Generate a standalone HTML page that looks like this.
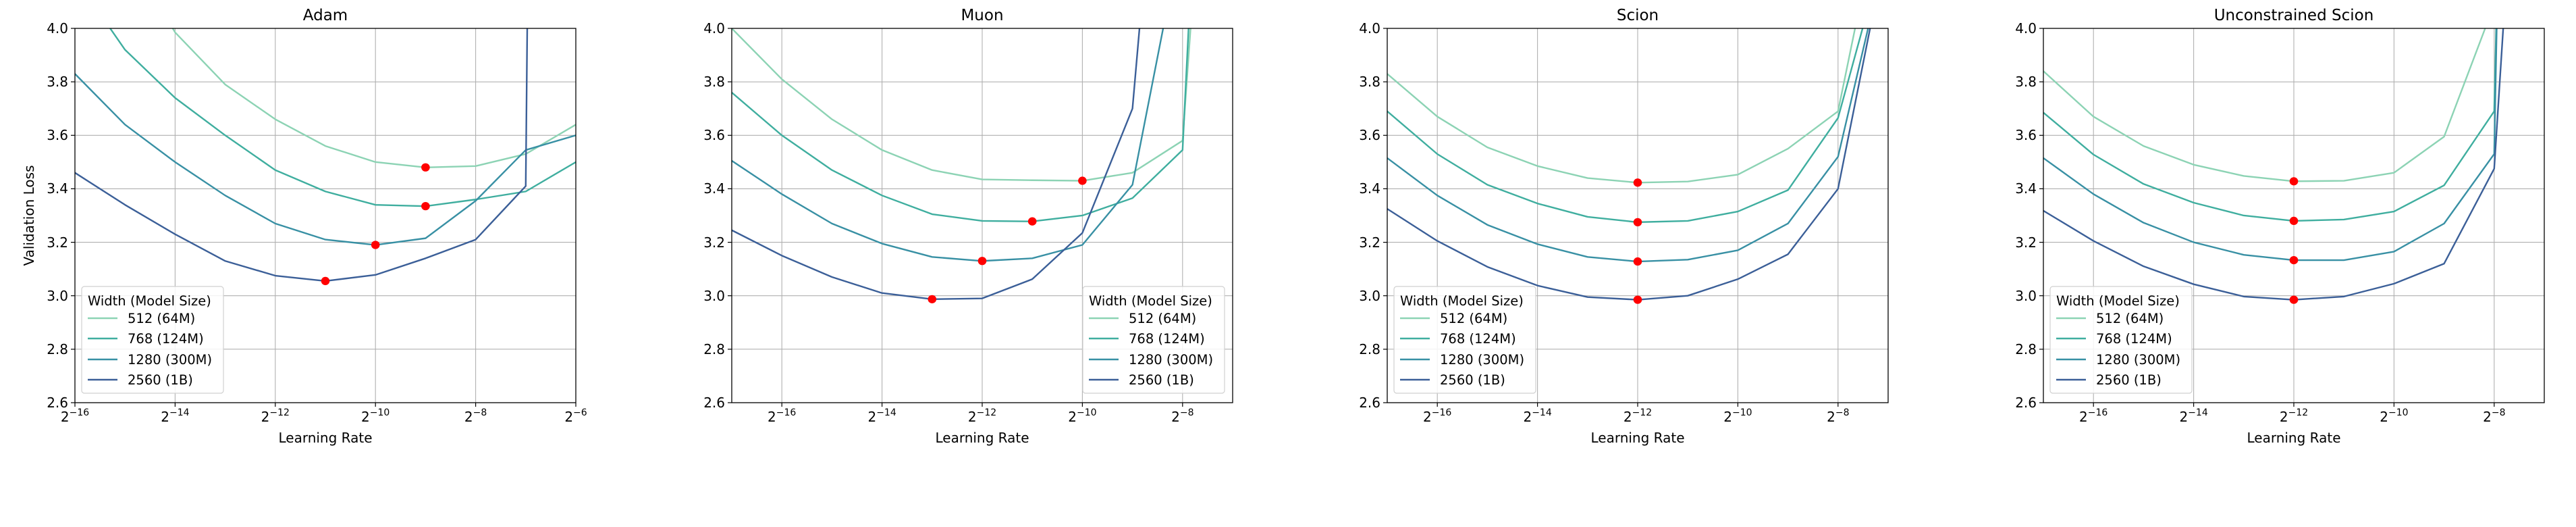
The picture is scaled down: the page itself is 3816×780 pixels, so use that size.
<!DOCTYPE html>
<html><head><meta charset="utf-8">
<style>
html,body{margin:0;padding:0;background:#fff;}
svg{display:block;font-family:"DejaVu Sans","Liberation Sans",sans-serif;}
.ln{fill:none;stroke-width:2.4;vector-effect:non-scaling-stroke;stroke-linejoin:round;}
.g{stroke:#b0b0b0;}
.g line{stroke-width:1.1;vector-effect:non-scaling-stroke;fill:none;}
.c1{stroke:#8cd3b4}.c2{stroke:#3fae9f}.c3{stroke:#3890a4}.c4{stroke:#3b5f98}
.tk{font-size:20px;fill:#000}
.yt{font-size:20px;text-anchor:end;fill:#000}
.sup{font-size:14px}
.ttl{font-size:23px;text-anchor:middle}
.lab{font-size:20px;text-anchor:middle}
.lg{font-size:19.5px}
</style></head><body>
<svg width="3816" height="780" viewBox="0 0 3816 780" xmlns="http://www.w3.org/2000/svg">
<defs>
<clipPath id="k1"><rect x="111" y="42" width="742" height="554"/></clipPath>
<clipPath id="k2"><rect x="1084" y="42" width="742" height="554"/></clipPath>
<clipPath id="k3"><rect x="2055" y="42" width="742" height="554"/></clipPath>
<clipPath id="k4"><rect x="3027" y="42" width="742" height="554"/></clipPath>
</defs>

<!-- ================= ADAM ================= -->
<g clip-path="url(#k1)"><g transform="translate(1298.2,1624.8) scale(74.2,-395.7)">
<g class="g">
<line x1="-16" x2="-6" y1="3.8" y2="3.8"/><line x1="-16" x2="-6" y1="3.6" y2="3.6"/><line x1="-16" x2="-6" y1="3.4" y2="3.4"/><line x1="-16" x2="-6" y1="3.2" y2="3.2"/><line x1="-16" x2="-6" y1="3.0" y2="3.0"/><line x1="-16" x2="-6" y1="2.8" y2="2.8"/>
<line x1="-14" x2="-14" y1="2.6" y2="4"/><line x1="-12" x2="-12" y1="2.6" y2="4"/><line x1="-10" x2="-10" y1="2.6" y2="4"/><line x1="-8" x2="-8" y1="2.6" y2="4"/>
</g>
<polyline class="ln c1" points="-15,4.3 -14,3.985 -13,3.79 -12,3.66 -11,3.56 -10,3.50 -9,3.48 -8,3.485 -7,3.53 -6,3.64"/>
<polyline class="ln c2" points="-16,4.19 -15,3.92 -14,3.74 -13,3.60 -12,3.47 -11,3.39 -10,3.34 -9,3.335 -8,3.36 -7,3.39 -6,3.50"/>
<polyline class="ln c3" points="-16,3.83 -15,3.64 -14,3.50 -13,3.375 -12,3.27 -11,3.21 -10,3.19 -9,3.215 -8,3.355 -7,3.545 -6,3.60"/>
<polyline class="ln c4" points="-16,3.46 -15,3.34 -14,3.23 -13,3.13 -12,3.075 -11,3.055 -10,3.078 -9,3.14 -8,3.21 -7,3.41 -6.97,4.0 -6.9,4.5"/>
<g fill="#ff0000"><ellipse cx="-9" cy="3.48" rx="0.085" ry="0.0155"/><ellipse cx="-9" cy="3.335" rx="0.085" ry="0.0155"/><ellipse cx="-10" cy="3.19" rx="0.085" ry="0.0155"/><ellipse cx="-11" cy="3.055" rx="0.085" ry="0.0155"/></g>
</g></g>
<rect x="111" y="42" width="742" height="554" fill="none" stroke="#000" stroke-width="1.3"/>
<g stroke="#000" stroke-width="1.2">
<line x1="111" x2="111" y1="596" y2="602"/><line x1="259.4" x2="259.4" y1="596" y2="602"/><line x1="407.8" x2="407.8" y1="596" y2="602"/><line x1="556.2" x2="556.2" y1="596" y2="602"/><line x1="704.6" x2="704.6" y1="596" y2="602"/><line x1="853" x2="853" y1="596" y2="602"/>
<line x1="105" x2="111" y1="42" y2="42"/><line x1="105" x2="111" y1="121.1" y2="121.1"/><line x1="105" x2="111" y1="200.3" y2="200.3"/><line x1="105" x2="111" y1="279.4" y2="279.4"/><line x1="105" x2="111" y1="358.6" y2="358.6"/><line x1="105" x2="111" y1="437.7" y2="437.7"/><line x1="105" x2="111" y1="516.9" y2="516.9"/><line x1="105" x2="111" y1="596" y2="596"/>
</g>
<g class="yt"><text x="101" y="49">4.0</text><text x="101" y="128">3.8</text><text x="101" y="207">3.6</text><text x="101" y="286">3.4</text><text x="101" y="366">3.2</text><text x="101" y="445">3.0</text><text x="101" y="524">2.8</text><text x="101" y="603">2.6</text></g>
<g class="tk">
<text x="111" y="624" text-anchor="middle">2<tspan class="sup" dy="-9">−16</tspan></text>
<text x="259.4" y="624" text-anchor="middle">2<tspan class="sup" dy="-9">−14</tspan></text>
<text x="407.8" y="624" text-anchor="middle">2<tspan class="sup" dy="-9">−12</tspan></text>
<text x="556.2" y="624" text-anchor="middle">2<tspan class="sup" dy="-9">−10</tspan></text>
<text x="704.6" y="624" text-anchor="middle">2<tspan class="sup" dy="-9">−8</tspan></text>
<text x="853" y="624" text-anchor="middle">2<tspan class="sup" dy="-9">−6</tspan></text>
</g>
<text class="ttl" x="482" y="30">Adam</text>
<text class="lab" x="482" y="655">Learning Rate</text>
<text class="lab" transform="translate(50,319) rotate(-90)">Validation Loss</text>
<g transform="translate(121,424)">
<rect x="0" y="0" width="210" height="158" rx="4" fill="#fff" fill-opacity="0.85" stroke="#d0d0d0" stroke-width="1.2"/>
<text class="lg" x="9" y="28">Width (Model Size)</text>
<line x1="9" x2="53" y1="47" y2="47" class="c1" stroke-width="2.6"/><text class="lg" x="68" y="54">512 (64M)</text>
<line x1="9" x2="53" y1="77" y2="77" class="c2" stroke-width="2.6"/><text class="lg" x="68" y="84">768 (124M)</text>
<line x1="9" x2="53" y1="108" y2="108" class="c3" stroke-width="2.6"/><text class="lg" x="68" y="115">1280 (300M)</text>
<line x1="9" x2="53" y1="138" y2="138" class="c4" stroke-width="2.6"/><text class="lg" x="68" y="145">2560 (1B)</text>
</g>

<!-- ================= MUON ================= -->
<g clip-path="url(#k2)"><g transform="translate(2345.4,1624.8) scale(74.2,-395.7)">
<g class="g">
<line x1="-17" x2="-7" y1="3.8" y2="3.8"/><line x1="-17" x2="-7" y1="3.6" y2="3.6"/><line x1="-17" x2="-7" y1="3.4" y2="3.4"/><line x1="-17" x2="-7" y1="3.2" y2="3.2"/><line x1="-17" x2="-7" y1="3.0" y2="3.0"/><line x1="-17" x2="-7" y1="2.8" y2="2.8"/>
<line x1="-16" x2="-16" y1="2.6" y2="4"/><line x1="-14" x2="-14" y1="2.6" y2="4"/><line x1="-12" x2="-12" y1="2.6" y2="4"/><line x1="-10" x2="-10" y1="2.6" y2="4"/><line x1="-8" x2="-8" y1="2.6" y2="4"/>
</g>
<polyline class="ln c1" points="-17,4.0 -16,3.81 -15,3.66 -14,3.545 -13,3.47 -12,3.435 -11,3.432 -10,3.43 -9,3.46 -8,3.58 -7.84,4.0 -7.8,4.6"/>
<polyline class="ln c2" points="-17,3.76 -16,3.60 -15,3.47 -14,3.375 -13,3.305 -12,3.28 -11,3.278 -10,3.30 -9,3.365 -8,3.545 -7.88,4.0 -7.84,4.6"/>
<polyline class="ln c3" points="-17,3.505 -16,3.38 -15,3.27 -14,3.195 -13,3.145 -12,3.13 -11,3.14 -10,3.19 -9,3.415 -8,4.37"/>
<polyline class="ln c4" points="-17,3.245 -16,3.15 -15,3.07 -14,3.01 -13,2.987 -12,2.99 -11,3.062 -10,3.235 -9,3.70 -8,5.84"/>
<g fill="#ff0000"><ellipse cx="-10" cy="3.43" rx="0.085" ry="0.0155"/><ellipse cx="-11" cy="3.278" rx="0.085" ry="0.0155"/><ellipse cx="-12" cy="3.13" rx="0.085" ry="0.0155"/><ellipse cx="-13" cy="2.987" rx="0.085" ry="0.0155"/></g>
</g></g>
<rect x="1084" y="42" width="742" height="554" fill="none" stroke="#000" stroke-width="1.3"/>
<g stroke="#000" stroke-width="1.2">
<line x1="1158.2" x2="1158.2" y1="596" y2="602"/><line x1="1306.6" x2="1306.6" y1="596" y2="602"/><line x1="1455" x2="1455" y1="596" y2="602"/><line x1="1603.4" x2="1603.4" y1="596" y2="602"/><line x1="1751.8" x2="1751.8" y1="596" y2="602"/>
<line x1="1078" x2="1084" y1="42" y2="42"/><line x1="1078" x2="1084" y1="121.1" y2="121.1"/><line x1="1078" x2="1084" y1="200.3" y2="200.3"/><line x1="1078" x2="1084" y1="279.4" y2="279.4"/><line x1="1078" x2="1084" y1="358.6" y2="358.6"/><line x1="1078" x2="1084" y1="437.7" y2="437.7"/><line x1="1078" x2="1084" y1="516.9" y2="516.9"/><line x1="1078" x2="1084" y1="596" y2="596"/>
</g>
<g class="yt"><text x="1074" y="49">4.0</text><text x="1074" y="128">3.8</text><text x="1074" y="207">3.6</text><text x="1074" y="286">3.4</text><text x="1074" y="366">3.2</text><text x="1074" y="445">3.0</text><text x="1074" y="524">2.8</text><text x="1074" y="603">2.6</text></g>
<g class="tk">
<text x="1158.2" y="624" text-anchor="middle">2<tspan class="sup" dy="-9">−16</tspan></text>
<text x="1306.6" y="624" text-anchor="middle">2<tspan class="sup" dy="-9">−14</tspan></text>
<text x="1455" y="624" text-anchor="middle">2<tspan class="sup" dy="-9">−12</tspan></text>
<text x="1603.4" y="624" text-anchor="middle">2<tspan class="sup" dy="-9">−10</tspan></text>
<text x="1751.8" y="624" text-anchor="middle">2<tspan class="sup" dy="-9">−8</tspan></text>
</g>
<text class="ttl" x="1455" y="30">Muon</text>
<text class="lab" x="1455" y="655">Learning Rate</text>
<g transform="translate(1604,424)">
<rect x="0" y="0" width="210" height="158" rx="4" fill="#fff" fill-opacity="0.85" stroke="#d0d0d0" stroke-width="1.2"/>
<text class="lg" x="9" y="28">Width (Model Size)</text>
<line x1="9" x2="53" y1="47" y2="47" class="c1" stroke-width="2.6"/><text class="lg" x="68" y="54">512 (64M)</text>
<line x1="9" x2="53" y1="77" y2="77" class="c2" stroke-width="2.6"/><text class="lg" x="68" y="84">768 (124M)</text>
<line x1="9" x2="53" y1="108" y2="108" class="c3" stroke-width="2.6"/><text class="lg" x="68" y="115">1280 (300M)</text>
<line x1="9" x2="53" y1="138" y2="138" class="c4" stroke-width="2.6"/><text class="lg" x="68" y="145">2560 (1B)</text>
</g>

<!-- ================= SCION ================= -->
<g clip-path="url(#k3)"><g transform="translate(3316.4,1624.8) scale(74.2,-395.7)">
<g class="g">
<line x1="-17" x2="-7" y1="3.8" y2="3.8"/><line x1="-17" x2="-7" y1="3.6" y2="3.6"/><line x1="-17" x2="-7" y1="3.4" y2="3.4"/><line x1="-17" x2="-7" y1="3.2" y2="3.2"/><line x1="-17" x2="-7" y1="3.0" y2="3.0"/><line x1="-17" x2="-7" y1="2.8" y2="2.8"/>
<line x1="-16" x2="-16" y1="2.6" y2="4"/><line x1="-14" x2="-14" y1="2.6" y2="4"/><line x1="-12" x2="-12" y1="2.6" y2="4"/><line x1="-10" x2="-10" y1="2.6" y2="4"/><line x1="-8" x2="-8" y1="2.6" y2="4"/>
</g>
<polyline class="ln c1" points="-17,3.83 -16,3.67 -15,3.555 -14,3.485 -13,3.44 -12,3.423 -11,3.427 -10,3.453 -9,3.55 -8,3.69 -7.66,4.0 -7,4.6"/>
<polyline class="ln c2" points="-17,3.69 -16,3.53 -15,3.415 -14,3.345 -13,3.295 -12,3.275 -11,3.28 -10,3.315 -9,3.395 -8,3.665 -7.51,4.0 -7,4.35"/>
<polyline class="ln c3" points="-17,3.515 -16,3.375 -15,3.265 -14,3.193 -13,3.145 -12,3.128 -11,3.135 -10,3.17 -9,3.27 -8,3.52 -7.4,4.0 -7,4.32"/>
<polyline class="ln c4" points="-17,3.325 -16,3.205 -15,3.108 -14,3.038 -13,2.995 -12,2.985 -11,3.0 -10,3.062 -9,3.155 -8,3.40 -7.36,4.0 -7,4.34"/>
<g fill="#ff0000"><ellipse cx="-12" cy="3.423" rx="0.085" ry="0.0155"/><ellipse cx="-12" cy="3.275" rx="0.085" ry="0.0155"/><ellipse cx="-12" cy="3.128" rx="0.085" ry="0.0155"/><ellipse cx="-12" cy="2.985" rx="0.085" ry="0.0155"/></g>
</g></g>
<rect x="2055" y="42" width="742" height="554" fill="none" stroke="#000" stroke-width="1.3"/>
<g stroke="#000" stroke-width="1.2">
<line x1="2129.2" x2="2129.2" y1="596" y2="602"/><line x1="2277.6" x2="2277.6" y1="596" y2="602"/><line x1="2426" x2="2426" y1="596" y2="602"/><line x1="2574.4" x2="2574.4" y1="596" y2="602"/><line x1="2722.8" x2="2722.8" y1="596" y2="602"/>
<line x1="2049" x2="2055" y1="42" y2="42"/><line x1="2049" x2="2055" y1="121.1" y2="121.1"/><line x1="2049" x2="2055" y1="200.3" y2="200.3"/><line x1="2049" x2="2055" y1="279.4" y2="279.4"/><line x1="2049" x2="2055" y1="358.6" y2="358.6"/><line x1="2049" x2="2055" y1="437.7" y2="437.7"/><line x1="2049" x2="2055" y1="516.9" y2="516.9"/><line x1="2049" x2="2055" y1="596" y2="596"/>
</g>
<g class="yt"><text x="2045" y="49">4.0</text><text x="2045" y="128">3.8</text><text x="2045" y="207">3.6</text><text x="2045" y="286">3.4</text><text x="2045" y="366">3.2</text><text x="2045" y="445">3.0</text><text x="2045" y="524">2.8</text><text x="2045" y="603">2.6</text></g>
<g class="tk">
<text x="2129.2" y="624" text-anchor="middle">2<tspan class="sup" dy="-9">−16</tspan></text>
<text x="2277.6" y="624" text-anchor="middle">2<tspan class="sup" dy="-9">−14</tspan></text>
<text x="2426" y="624" text-anchor="middle">2<tspan class="sup" dy="-9">−12</tspan></text>
<text x="2574.4" y="624" text-anchor="middle">2<tspan class="sup" dy="-9">−10</tspan></text>
<text x="2722.8" y="624" text-anchor="middle">2<tspan class="sup" dy="-9">−8</tspan></text>
</g>
<text class="ttl" x="2426" y="30">Scion</text>
<text class="lab" x="2426" y="655">Learning Rate</text>
<g transform="translate(2065,424)">
<rect x="0" y="0" width="210" height="158" rx="4" fill="#fff" fill-opacity="0.85" stroke="#d0d0d0" stroke-width="1.2"/>
<text class="lg" x="9" y="28">Width (Model Size)</text>
<line x1="9" x2="53" y1="47" y2="47" class="c1" stroke-width="2.6"/><text class="lg" x="68" y="54">512 (64M)</text>
<line x1="9" x2="53" y1="77" y2="77" class="c2" stroke-width="2.6"/><text class="lg" x="68" y="84">768 (124M)</text>
<line x1="9" x2="53" y1="108" y2="108" class="c3" stroke-width="2.6"/><text class="lg" x="68" y="115">1280 (300M)</text>
<line x1="9" x2="53" y1="138" y2="138" class="c4" stroke-width="2.6"/><text class="lg" x="68" y="145">2560 (1B)</text>
</g>

<!-- ================= UNCONSTRAINED SCION ================= -->
<g clip-path="url(#k4)"><g transform="translate(4288.4,1624.8) scale(74.2,-395.7)">
<g class="g">
<line x1="-17" x2="-7" y1="3.8" y2="3.8"/><line x1="-17" x2="-7" y1="3.6" y2="3.6"/><line x1="-17" x2="-7" y1="3.4" y2="3.4"/><line x1="-17" x2="-7" y1="3.2" y2="3.2"/><line x1="-17" x2="-7" y1="3.0" y2="3.0"/><line x1="-17" x2="-7" y1="2.8" y2="2.8"/>
<line x1="-16" x2="-16" y1="2.6" y2="4"/><line x1="-14" x2="-14" y1="2.6" y2="4"/><line x1="-12" x2="-12" y1="2.6" y2="4"/><line x1="-10" x2="-10" y1="2.6" y2="4"/><line x1="-8" x2="-8" y1="2.6" y2="4"/>
</g>
<polyline class="ln c1" points="-17,3.84 -16,3.67 -15,3.56 -14,3.49 -13,3.448 -12,3.428 -11,3.43 -10,3.46 -9,3.595 -8.18,4.0 -8,4.09"/>
<polyline class="ln c2" points="-17,3.685 -16,3.528 -15,3.418 -14,3.348 -13,3.30 -12,3.28 -11,3.285 -10,3.315 -9,3.413 -8,3.69 -7.96,4.0 -7.9,4.6"/>
<polyline class="ln c3" points="-17,3.515 -16,3.38 -15,3.273 -14,3.2 -13,3.153 -12,3.133 -11,3.133 -10,3.165 -9,3.27 -8,3.53 -7.95,4.0 -7.9,4.5"/>
<polyline class="ln c4" points="-17,3.318 -16,3.205 -15,3.11 -14,3.043 -13,2.997 -12,2.985 -11,2.997 -10,3.045 -9,3.12 -8,3.475 -7.82,4.0 -7.7,4.6"/>
<g fill="#ff0000"><ellipse cx="-12" cy="3.428" rx="0.085" ry="0.0155"/><ellipse cx="-12" cy="3.28" rx="0.085" ry="0.0155"/><ellipse cx="-12" cy="3.133" rx="0.085" ry="0.0155"/><ellipse cx="-12" cy="2.985" rx="0.085" ry="0.0155"/></g>
</g></g>
<rect x="3027" y="42" width="742" height="554" fill="none" stroke="#000" stroke-width="1.3"/>
<g stroke="#000" stroke-width="1.2">
<line x1="3101.2" x2="3101.2" y1="596" y2="602"/><line x1="3249.6" x2="3249.6" y1="596" y2="602"/><line x1="3398" x2="3398" y1="596" y2="602"/><line x1="3546.4" x2="3546.4" y1="596" y2="602"/><line x1="3694.8" x2="3694.8" y1="596" y2="602"/>
<line x1="3021" x2="3027" y1="42" y2="42"/><line x1="3021" x2="3027" y1="121.1" y2="121.1"/><line x1="3021" x2="3027" y1="200.3" y2="200.3"/><line x1="3021" x2="3027" y1="279.4" y2="279.4"/><line x1="3021" x2="3027" y1="358.6" y2="358.6"/><line x1="3021" x2="3027" y1="437.7" y2="437.7"/><line x1="3021" x2="3027" y1="516.9" y2="516.9"/><line x1="3021" x2="3027" y1="596" y2="596"/>
</g>
<g class="yt"><text x="3017" y="49">4.0</text><text x="3017" y="128">3.8</text><text x="3017" y="207">3.6</text><text x="3017" y="286">3.4</text><text x="3017" y="366">3.2</text><text x="3017" y="445">3.0</text><text x="3017" y="524">2.8</text><text x="3017" y="603">2.6</text></g>
<g class="tk">
<text x="3101.2" y="624" text-anchor="middle">2<tspan class="sup" dy="-9">−16</tspan></text>
<text x="3249.6" y="624" text-anchor="middle">2<tspan class="sup" dy="-9">−14</tspan></text>
<text x="3398" y="624" text-anchor="middle">2<tspan class="sup" dy="-9">−12</tspan></text>
<text x="3546.4" y="624" text-anchor="middle">2<tspan class="sup" dy="-9">−10</tspan></text>
<text x="3694.8" y="624" text-anchor="middle">2<tspan class="sup" dy="-9">−8</tspan></text>
</g>
<text class="ttl" x="3398" y="30">Unconstrained Scion</text>
<text class="lab" x="3398" y="655">Learning Rate</text>
<g transform="translate(3037,424)">
<rect x="0" y="0" width="210" height="158" rx="4" fill="#fff" fill-opacity="0.85" stroke="#d0d0d0" stroke-width="1.2"/>
<text class="lg" x="9" y="28">Width (Model Size)</text>
<line x1="9" x2="53" y1="47" y2="47" class="c1" stroke-width="2.6"/><text class="lg" x="68" y="54">512 (64M)</text>
<line x1="9" x2="53" y1="77" y2="77" class="c2" stroke-width="2.6"/><text class="lg" x="68" y="84">768 (124M)</text>
<line x1="9" x2="53" y1="108" y2="108" class="c3" stroke-width="2.6"/><text class="lg" x="68" y="115">1280 (300M)</text>
<line x1="9" x2="53" y1="138" y2="138" class="c4" stroke-width="2.6"/><text class="lg" x="68" y="145">2560 (1B)</text>
</g>
</svg>
</body></html>
